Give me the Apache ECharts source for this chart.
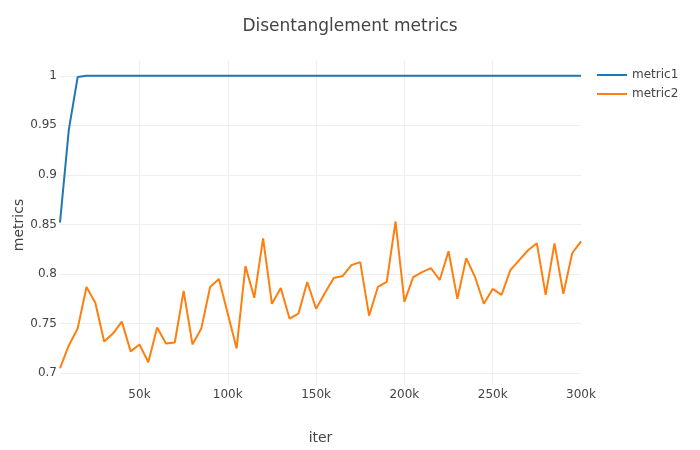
<!DOCTYPE html>
<html>
<head>
<meta charset="utf-8">
<script src="https://cdn.jsdelivr.net/npm/echarts@6/dist/echarts.min.js"></script>
<style>html,body{margin:0;padding:0;background:#fff}#c{width:700px;height:450px}</style>
</head>
<body>
<div id="c"></div>
<script>
var iters = [5000,10000,15000,20000,25000,30000,35000,40000,45000,50000,
  55000,60000,65000,70000,75000,80000,85000,90000,95000,100000,
  105000,110000,115000,120000,125000,130000,135000,140000,145000,150000,
  155000,160000,165000,170000,175000,180000,185000,190000,195000,200000,
  205000,210000,215000,220000,225000,230000,235000,240000,245000,250000,
  255000,260000,265000,270000,275000,280000,285000,290000,295000,300000];
var metric1 = [0.852,0.9457,0.9987,1,1,1,1,1,1,1,
  1,1,1,1,1,1,1,1,1,1,
  1,1,1,1,1,1,1,1,1,1,
  1,1,1,1,1,1,1,1,1,1,
  1,1,1,1,1,1,1,1,1,1,
  1,1,1,1,1,1,1,1,1,1];
var metric2 = [0.705,0.728,0.745,0.787,0.771,0.732,0.740,0.752,0.722,0.729,
  0.711,0.746,0.730,0.731,0.783,0.729,0.745,0.787,0.795,0.760,
  0.725,0.808,0.776,0.836,0.770,0.786,0.755,0.760,0.792,0.765,
  0.781,0.796,0.798,0.809,0.812,0.758,0.787,0.792,0.853,0.772,
  0.797,0.802,0.806,0.794,0.823,0.775,0.816,0.797,0.770,0.785,
  0.779,0.804,0.814,0.824,0.831,0.779,0.831,0.780,0.821,0.833];
var seriesNames = ['metric1','metric2'];
var titleText = 'Disentanglement metrics';
var xName = 'iter', yName = 'metrics';

function pairs(ys){ return iters.map(function(x,i){ return [x, ys[i]]; }); }
var FONT = 'DejaVu Sans';
var chart = echarts.init(document.getElementById('c'), null, {renderer:'canvas'});
chart.setOption({
  animation:false,
  backgroundColor:'#fff',
  color:['#1f77b4','#ff7f0e'],
  title:{text:titleText,left:'center',top:13,textStyle:{fontFamily:FONT,fontSize:17,fontWeight:'normal',color:'#444'}},
  legend:{orient:'vertical',left:597,top:69,padding:0,itemWidth:30,itemHeight:14,itemGap:7,
    icon:'path://M0,6L30,6L30,8L0,8Z',
    textStyle:{fontFamily:FONT,fontSize:12,color:'#444',padding:[0,0,0,0]},
    data:seriesNames},
  graphic:[{type:'text',x:19,y:225,rotation:Math.PI/2,
    style:{text:yName,align:'center',verticalAlign:'middle',fill:'#444',font:'14px "DejaVu Sans"'}}],
  grid:{left:60,right:119,top:60,bottom:60,containLabel:false},
  xAxis:{type:'value',min:5000,max:300000,
    name:xName,nameLocation:'middle',nameGap:46,
    nameTextStyle:{fontFamily:FONT,fontSize:14,color:'#444'},
    axisLine:{show:false},axisTick:{show:false},
    splitLine:{show:true,showMinLine:false,showMaxLine:false,lineStyle:{color:'#eee',width:1}},
    axisLabel:{fontFamily:FONT,fontSize:12,color:'#444',margin:4,showMinLabel:true,showMaxLabel:true,
      formatter:function(v){ var q=v/50000; return Math.abs(q-Math.round(q))<1e-6 ? (v/1000)+'k' : ''; }}
  },
  yAxis:{type:'value',min:0.6881,max:1.0159,
    axisLine:{show:false},axisTick:{show:false},
    splitLine:{show:true,showMinLine:false,showMaxLine:false,lineStyle:{color:'#eee',width:1}},
    axisLabel:{fontFamily:FONT,fontSize:12,color:'#444',margin:3,
      formatter:function(v){ var q=v/0.05; return Math.abs(q-Math.round(q))<1e-6 ? String(+v.toFixed(2)) : ''; }}
  },
  series:[
    {name:seriesNames[0],type:'line',data:pairs(metric1),symbol:'none',lineStyle:{width:2},z:3},
    {name:seriesNames[1],type:'line',data:pairs(metric2),symbol:'none',lineStyle:{width:2},z:2}
  ]
});
</script>
</body>
</html>
